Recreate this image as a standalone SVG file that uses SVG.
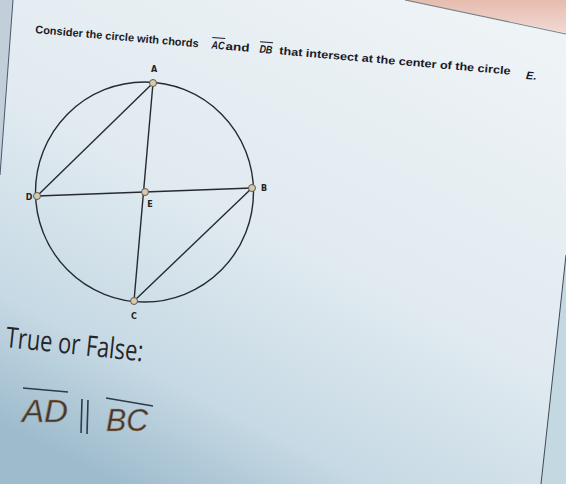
<svg xmlns="http://www.w3.org/2000/svg" width="566" height="484" viewBox="0 0 566 484">
<defs>
<linearGradient id="bg" x1="0.8" y1="0" x2="0.2" y2="1">
<stop offset="0" stop-color="#eef3f6"/>
<stop offset="0.5" stop-color="#e0eaf0"/>
<stop offset="0.8" stop-color="#c6d9e4"/>
<stop offset="1" stop-color="#9dbbcd"/>
</linearGradient>
<linearGradient id="pink" x1="0" y1="0" x2="0" y2="1">
<stop offset="0" stop-color="#e6bcae"/>
<stop offset="1" stop-color="#f1d9d2"/>
</linearGradient>
<style>
.top{font-family:"Liberation Sans",Arial,sans-serif;font-weight:bold;font-size:11px;fill:#1a1a26}
.lbl{font-family:"DejaVu Sans",sans-serif;font-weight:bold;font-size:8px;fill:#222;text-anchor:middle}
.geo{stroke:#262a30;stroke-width:1.4;fill:none}
.pt{fill:#d9c9a6;stroke:#5a5a5a;stroke-width:1}
.big{font-family:"Open Sans","Liberation Sans",sans-serif;fill:#262628}
.math{font-family:"Liberation Sans",sans-serif;font-style:italic;font-size:32px;fill:#3a3a3a;stroke:#b98a5c;stroke-width:0.5}
.bar{stroke:#2c3c4c;stroke-width:1.6}
</style>
</defs>
<rect width="566" height="484" fill="url(#bg)"/>
<polygon points="0,0 13,0 0,175" fill="#c2cfdb"/>
<line x1="13" y1="0" x2="0" y2="175" stroke="#4a5868" stroke-width="1"/>
<polygon points="405,0 566,0 566,33" fill="url(#pink)"/>
<line x1="405" y1="0" x2="566" y2="34" stroke="#7a8088" stroke-width="1.2"/>
<polygon points="566,255 566,484 541,484" fill="#c4d8e2"/>
<line x1="566" y1="255" x2="541" y2="484" stroke="#3e4a56" stroke-width="1"/>

<g id="statement" transform="rotate(5 35 33)">
<text class="top" x="35" y="33" textLength="164" lengthAdjust="spacingAndGlyphs">Consider the circle with chords</text>
<text class="top" x="212" y="33" font-style="italic" textLength="13" lengthAdjust="spacingAndGlyphs">AC</text>
<line x1="212" y1="22" x2="225" y2="22" stroke="#1c1c28" stroke-width="1"/>
<text class="top" x="226" y="33" textLength="24" lengthAdjust="spacingAndGlyphs">and</text>
<text class="top" x="260" y="33" font-style="italic" textLength="13" lengthAdjust="spacingAndGlyphs">DB</text>
<line x1="260" y1="22" x2="273" y2="22" stroke="#1c1c28" stroke-width="1"/>
<text class="top" x="280" y="33" textLength="232" lengthAdjust="spacingAndGlyphs">that intersect at the center of the circle</text>
<text class="top" x="528" y="36" font-style="italic">E.</text>
</g>

<g id="circle"><ellipse class="geo" cx="144.5" cy="192" rx="109" ry="110"/></g>
<g id="connectors">
<line class="geo" x1="153" y1="83" x2="134" y2="301"/>
<line class="geo" x1="37" y1="196" x2="252" y2="188"/>
<line class="geo" x1="153" y1="83" x2="37" y2="196"/>
<line class="geo" x1="252" y1="188" x2="134" y2="301"/>
</g>
<g id="A"><circle class="pt" cx="153" cy="83" r="3.5"/><text class="lbl" x="154" y="72">A</text></g>
<g id="D"><circle class="pt" cx="37" cy="196" r="3.5"/><text class="lbl" x="29" y="200">D</text></g>
<g id="B"><circle class="pt" cx="252" cy="188" r="3.5"/><text class="lbl" x="264" y="191">B</text></g>
<g id="E"><circle class="pt" cx="145" cy="192" r="3.5"/><text class="lbl" x="150" y="207">E</text></g>
<g id="C"><circle class="pt" cx="134" cy="301" r="3.5"/><text class="lbl" x="134" y="319">C</text></g>

<g id="question" transform="rotate(6 5 347)">
<text class="big" x="5" y="347" font-size="22" transform="translate(0 347) scale(1 1.3) translate(0 -347)" textLength="138" lengthAdjust="spacingAndGlyphs">True or False:</text>
</g>

<g id="expr">
<line x1="23" y1="388" x2="68" y2="392" class="bar" stroke-width="2"/>
<text class="math" x="22" y="422" textLength="46" lengthAdjust="spacingAndGlyphs">AD</text>
<line class="bar" x1="82" y1="399" x2="81" y2="433"/>
<line class="bar" x1="88" y1="400" x2="87" y2="434"/>
<line x1="106" y1="398" x2="153" y2="406" class="bar" stroke-width="2"/>
<text class="math" x="106" y="431" font-style="normal" textLength="42" lengthAdjust="spacingAndGlyphs">BC</text>
</g>
</svg>
